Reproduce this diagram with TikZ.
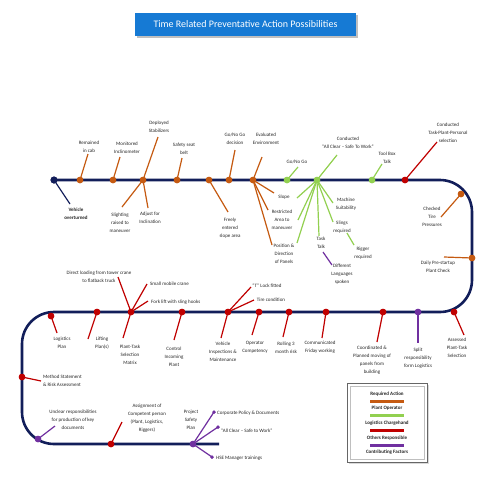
\documentclass[tikz,border=0pt]{standalone}
\usepackage{fontspec}
\setmainfont{Carlito}
\definecolor{navy}{RGB}{18,30,90}
\definecolor{ora}{RGB}{197,90,17}
\definecolor{grn}{RGB}{146,208,80}
\definecolor{rd}{RGB}{192,0,0}
\definecolor{pur}{RGB}{112,48,160}
\definecolor{ttl}{RGB}{22,122,212}
\tikzset{
  mainline/.style={line width=2.6pt, draw=navy, rounded corners=32pt},
  dotbase/.style={circle, inner sep=0pt, minimum size=6.5pt},
  dO/.style={dotbase, fill=ora},
  dG/.style={dotbase, fill=grn},
  dR/.style={dotbase, fill=rd},
  dP/.style={dotbase, fill=pur},
  dN/.style={dotbase, fill=navy, minimum size=7pt},
  dsmall/.style={circle, inner sep=0pt, minimum size=3.5pt, fill=pur},
  lbl/.style={font=\fontsize{5}{8}\selectfont, align=center, inner sep=0pt, text=black!85},
  lbll/.style={lbl, align=left, anchor=west},
  cO/.style={line width=1.2pt, draw=ora},
  cG/.style={line width=1.2pt, draw=grn},
  cR/.style={line width=1.2pt, draw=rd},
  cP/.style={line width=1.2pt, draw=pur},
  cN/.style={line width=1.2pt, draw=navy},
  bar/.style={minimum width=34pt, minimum height=3pt, inner sep=0pt}
}
\begin{document}
\begin{tikzpicture}[x=1pt,y=-1pt]
\useasboundingbox (0,0) rectangle (480,480);
\fill[white] (0,0) rectangle (480,480);
% title
\fill[black!25] (136.5,14.5) rectangle (357.5,37.5);
\node[fill=ttl, minimum width=221pt, minimum height=23pt, inner sep=0pt, text=white, font=\fontsize{10}{12}\selectfont] (title) at (245.5,24.5) {Time Related Preventative Action Possibilities};
% main spine
\draw[mainline] (54,180) -- (472,180) -- (472,312) -- (22,312) -- (22,444) -- (219,444);

% ---- top row connectors
\coordinate (e0) at (70,204);
\coordinate (e1) at (88,154);
\coordinate (e2) at (120,157);
\coordinate (e3a) at (158,137);
\coordinate (e3b) at (122,207);
\coordinate (e3c) at (148,208);
\coordinate (e4) at (182,158);
\coordinate (e5) at (228,212);
\coordinate (e6) at (235,150);
\coordinate (e7a) at (262,157);
\coordinate (e7b) at (274,193);
\coordinate (e7c) at (268,210);
\coordinate (e7d) at (272,245);
\coordinate (f1) at (298,167);
\coordinate (f2a) at (337,155);
\coordinate (f2b) at (297,198);
\coordinate (f2c) at (298,220);
\coordinate (f2d) at (297,243);
\coordinate (f2e) at (319,236);
\coordinate (f2f) at (333,203);
\coordinate (f2g) at (333,222);
\coordinate (h1) at (323,252);
\coordinate (h2) at (332,265);
\coordinate (k1) at (347,233);
\coordinate (k2) at (354,245);
\coordinate (f3) at (382,164);
\coordinate (e8) at (437,142);
\coordinate (e9) at (441,217);
\coordinate (e10) at (444,257);

\node[dN] (s0) at (54,180) {};
\node[dO] (o1) at (80,180) {};
\node[dO] (o2) at (113,180) {};
\node[dO] (o3) at (143,180) {};
\node[dO] (o4) at (177,180) {};
\node[dO] (o5) at (209,180) {};
\node[dO] (o6) at (229,180) {};
\node[dO] (o7) at (253,180) {};
\node[dG] (g1) at (287,180) {};
\node[dG] (g2) at (317,180) {};
\node[dG] (g3) at (372,180) {};
\node[dR] (r1) at (405,180) {};
\node[dO] (o8) at (461,194) {};
\node[dO] (o9) at (472,258) {};

\draw[cN] (s0.center) -- (e0);
\draw[cO] (o1.center) -- (e1);
\draw[cO] (o2.center) -- (e2);
\draw[cO] (o3.center) -- (e3a);
\draw[cO] (o3.center) -- (e3b);
\draw[cO] (o3.center) -- (e3c);
\draw[cO] (o4.center) -- (e4);
\draw[cO] (o5.center) -- (e5);
\draw[cO] (o6.center) -- (e6);
\draw[cO] (o7.center) -- (e7a);
\draw[cO] (o7.center) -- (e7b);
\draw[cO] (o7.center) -- (e7c);
\draw[cO] (o7.center) -- (e7d);
\draw[cG] (g1.center) -- (f1);
\draw[cG] (g2.center) -- (f2a);
\draw[cG] (g2.center) -- (f2b);
\draw[cG] (g2.center) -- (f2c);
\draw[cG] (g2.center) -- (f2d);
\draw[cG] (g2.center) -- (f2e);
\draw[cG] (g2.center) -- (f2f);
\draw[cG] (g2.center) -- (f2g);
\draw[cP] (h1) -- (h2);
\draw[cG] (k1) -- (k2);
\draw[cG] (g3.center) -- (f3);
\draw[cR] (r1.center) -- (e8);
\draw[cO] (o8.center) -- (e9);
\draw[cO] (o9.center) -- (e10);
\foreach \n in {s0,o1,o2,o3,o4,o5,o6,o7,g1,g2,g3,r1,o8,o9} {\node[dotbase] at (\n) {};}
\node[dN] at (s0) {};
\foreach \n in {o1,o2,o3,o4,o5,o6,o7,o8,o9} {\node[dO] at (\n) {};}
\foreach \n in {g1,g2,g3} {\node[dG] at (\n) {};}
\node[dR] at (r1) {};

\node[lbl, font=\fontsize{5}{8}\selectfont\bfseries] (t0) at (76,214) {Vehicle\\overturned};
\node[lbl] (t1) at (89,147) {Remained\\in cab};
\node[lbl] (t2) at (127,148) {Monitored\\Inclinometer};
\node[lbl] (t3) at (159,127) {Deployed\\Stabilizers};
\node[lbl] (t4) at (120,223) {Slighting\\raised to\\maneuver};
\node[lbl] (t5) at (150,218) {Adjust for\\Inclination};
\node[lbl] (t6) at (184,149) {Safety seat\\belt};
\node[lbl] (t7) at (230,228) {Freely\\entered\\slope area};
\node[lbl] (t8) at (235,139) {Go/No Go\\decision};
\node[lbl] (t9) at (266,139) {Evaluated\\Environment};
\node[lbl] (t10) at (284,197) {Slope};
\node[lbl] (t11) at (282,220) {Restricted\\Area to\\maneuver};
\node[lbl] (t12) at (284,254) {Position \&\\Direction\\of Panels};
\node[lbl] (t13) at (297,162) {Go/No Go};
\node[lbl] (t14) at (348,143) {Conducted\\``All Clear -- Safe To Work''};
\node[lbl] (t15) at (321,243) {Task\\Talk};
\node[lbl] (t16) at (342,274) {Different\\Languages\\spoken};
\node[lbl] (t17) at (346,204) {Machine\\Suitability};
\node[lbl] (t18) at (342,227) {Slings\\required};
\node[lbl] (t19) at (363,253) {Rigger\\required};
\node[lbl] (t20) at (387,158) {Tool Box\\Talk};
\node[lbl] (t21) at (448,133) {Conducted\\Task-Plant-Personal\\selection};
\node[lbl] (t22) at (432,217) {Checked\\Tire\\Pressures};
\node[lbl] (t23) at (438,267) {Daily Pre-startup\\Plant Check};

% ---- middle row
\coordinate (m4a) at (118,277);
\coordinate (m4b) at (147,284);
\coordinate (m4c) at (148,301);
\coordinate (m4d) at (123,338);
\coordinate (m2) at (57,333);
\coordinate (m3) at (88,339);
\coordinate (m5) at (174,340);
\coordinate (m6a) at (251,287);
\coordinate (m6b) at (254,300);
\coordinate (m6c) at (221,338);
\coordinate (m7) at (252,335);
\coordinate (m8) at (283,337);
\coordinate (m9) at (322,338);
\coordinate (m10) at (377,342);
\coordinate (mp1) at (418,343);
\coordinate (m11) at (464,335);
\coordinate (m12) at (41,381);
\coordinate (mp2) at (55,426);
\coordinate (m13) at (122,422);

\node[dR] (r2) at (51,316) {};
\node[dR] (r3) at (97,312) {};
\node[dR] (r4) at (131,312) {};
\node[dR] (r5) at (182,312) {};
\node[dR] (r6) at (228,312) {};
\node[dR] (r7) at (259,312) {};
\node[dR] (r8) at (289,312) {};
\node[dR] (r9) at (326,312) {};
\node[dR] (r10) at (383,312) {};
\node[dP] (p1) at (418,312) {};
\node[dR] (r11) at (454,312) {};
\node[dR] (r12) at (22,377) {};
\node[dP] (p2) at (38,439) {};
\node[dR] (r13) at (111,444) {};
\node[dP] (p3) at (193,444) {};
\node[dsmall] (q1) at (214,412) {};
\node[dsmall] (q2) at (218,427) {};
\node[dsmall] (q3) at (212,457) {};

\draw[cR] (r4.center) -- (m4a);
\draw[cR] (r4.center) -- (m4b);
\draw[cR] (r4.center) -- (m4c);
\draw[cR] (r4.center) -- (m4d);
\draw[cR] (r2.center) -- (m2);
\draw[cR] (r3.center) -- (m3);
\draw[cR] (r5.center) -- (m5);
\draw[cR] (r6.center) -- (m6a);
\draw[cR] (r6.center) -- (m6b);
\draw[cR] (r6.center) -- (m6c);
\draw[cR] (r7.center) -- (m7);
\draw[cR] (r8.center) -- (m8);
\draw[cR] (r9.center) -- (m9);
\draw[cR] (r10.center) -- (m10);
\draw[cP] (p1.center) -- (mp1);
\draw[cR] (r11.center) -- (m11);
\draw[cR] (r12.center) -- (m12);
\draw[cP] (p2.center) -- (mp2);
\draw[cR] (r13.center) -- (m13);
\draw[cP] (p3.center) -- (q1.center);
\draw[cP] (p3.center) -- (q2.center);
\draw[cP] (p3.center) -- (q3.center);
\foreach \n in {r2,r3,r4,r5,r6,r7,r8,r9,r10,r11,r12,r13} {\node[dR] at (\n) {};}
\foreach \n in {p1,p2,p3} {\node[dP] at (\n) {};}
\foreach \n in {q1,q2,q3} {\node[dsmall] at (\n) {};}

\node[lbl] (u1) at (99,277) {Direct loading from tower crane\\to flatback truck};
\node[lbll] (u2) at (150,284) {Small mobile crane};
\node[lbll] (u3) at (151,302) {Fork lift with sling hooks};
\node[lbl] (u4) at (130,355) {Plant-Task\\Selection\\Matrix};
\node[lbl] (u5) at (62,343) {Logistics\\Plan};
\node[lbl] (u6) at (102,343) {Lifting\\Plan(s)};
\node[lbl] (u7) at (174,357) {Control\\Incoming\\Plant};
\node[lbl] (u8) at (267,286) {``T'' Lock fitted};
\node[lbl] (u9) at (271,300) {Tire condition};
\node[lbl] (u10) at (223,352) {Vehicle\\Inspections \&\\Maintenance};
\node[lbl] (u11) at (255,347) {Operator\\Competency};
\node[lbl] (u12) at (286,348) {Rolling 3\\month risk};
\node[lbl] (u13) at (320,347) {Communicated\\Friday working};
\node[lbl] (u14) at (372,360) {Coordinated \&\\Planned moving of\\panels from\\building};
\node[lbl] (u15) at (418,358) {Split\\responsibility\\form Logistics};
\node[lbl] (u16) at (457,348) {Assessed\\Plant-Task\\Selection};
\node[lbll] (u17) at (43,381) {Method Statement\\\& Risk Assessment};
\node[lbl] (u18) at (73,420) {Unclear responsibilities\\for production of key\\documents};
\node[lbl] (u19) at (147,418) {Assignment of\\Competent person\\(Plant, Logistics,\\Riggers)};
\node[lbl] (u20) at (191,420) {Project\\Safety\\Plan};
\node[lbll] (u21) at (217,413) {Corporate Policy \& Documents};
\node[lbll] (u22) at (221,431) {``All Clear -- Safe to Work''};
\node[lbll] (u23) at (216,458) {HSE Manager trainings};

% ---- legend
\fill[black!15] (349,385) rectangle (429,464);
\node[draw=black!60, line width=1pt, fill=white, minimum width=80pt, minimum height=79pt, inner sep=0pt] (leg) at (387,422.5) {};
\draw[black!25, line width=0.6pt] (350,386) rectangle (424,459);
\node[lbl, font=\fontsize{5}{8}\selectfont\bfseries] (l1) at (387,394) {Required Action};
\node[bar, fill=ora] (b1) at (387,401) {};
\node[lbl, font=\fontsize{5}{8}\selectfont\bfseries] (l2) at (387,408) {Plant Operator};
\node[bar, fill=grn] (b2) at (387,415) {};
\node[lbl, font=\fontsize{5}{8}\selectfont\bfseries] (l3) at (387,423) {Logistics Chargehand};
\node[bar, fill=rd] (b3) at (387,430) {};
\node[lbl, font=\fontsize{5}{8}\selectfont\bfseries] (l4) at (387,438) {Others Responsible};
\node[bar, fill=pur] (b4) at (387,445) {};
\node[lbl, font=\fontsize{5}{8}\selectfont\bfseries] (l5) at (387,452) {Contributing Factors};
\end{tikzpicture}
\end{document}
